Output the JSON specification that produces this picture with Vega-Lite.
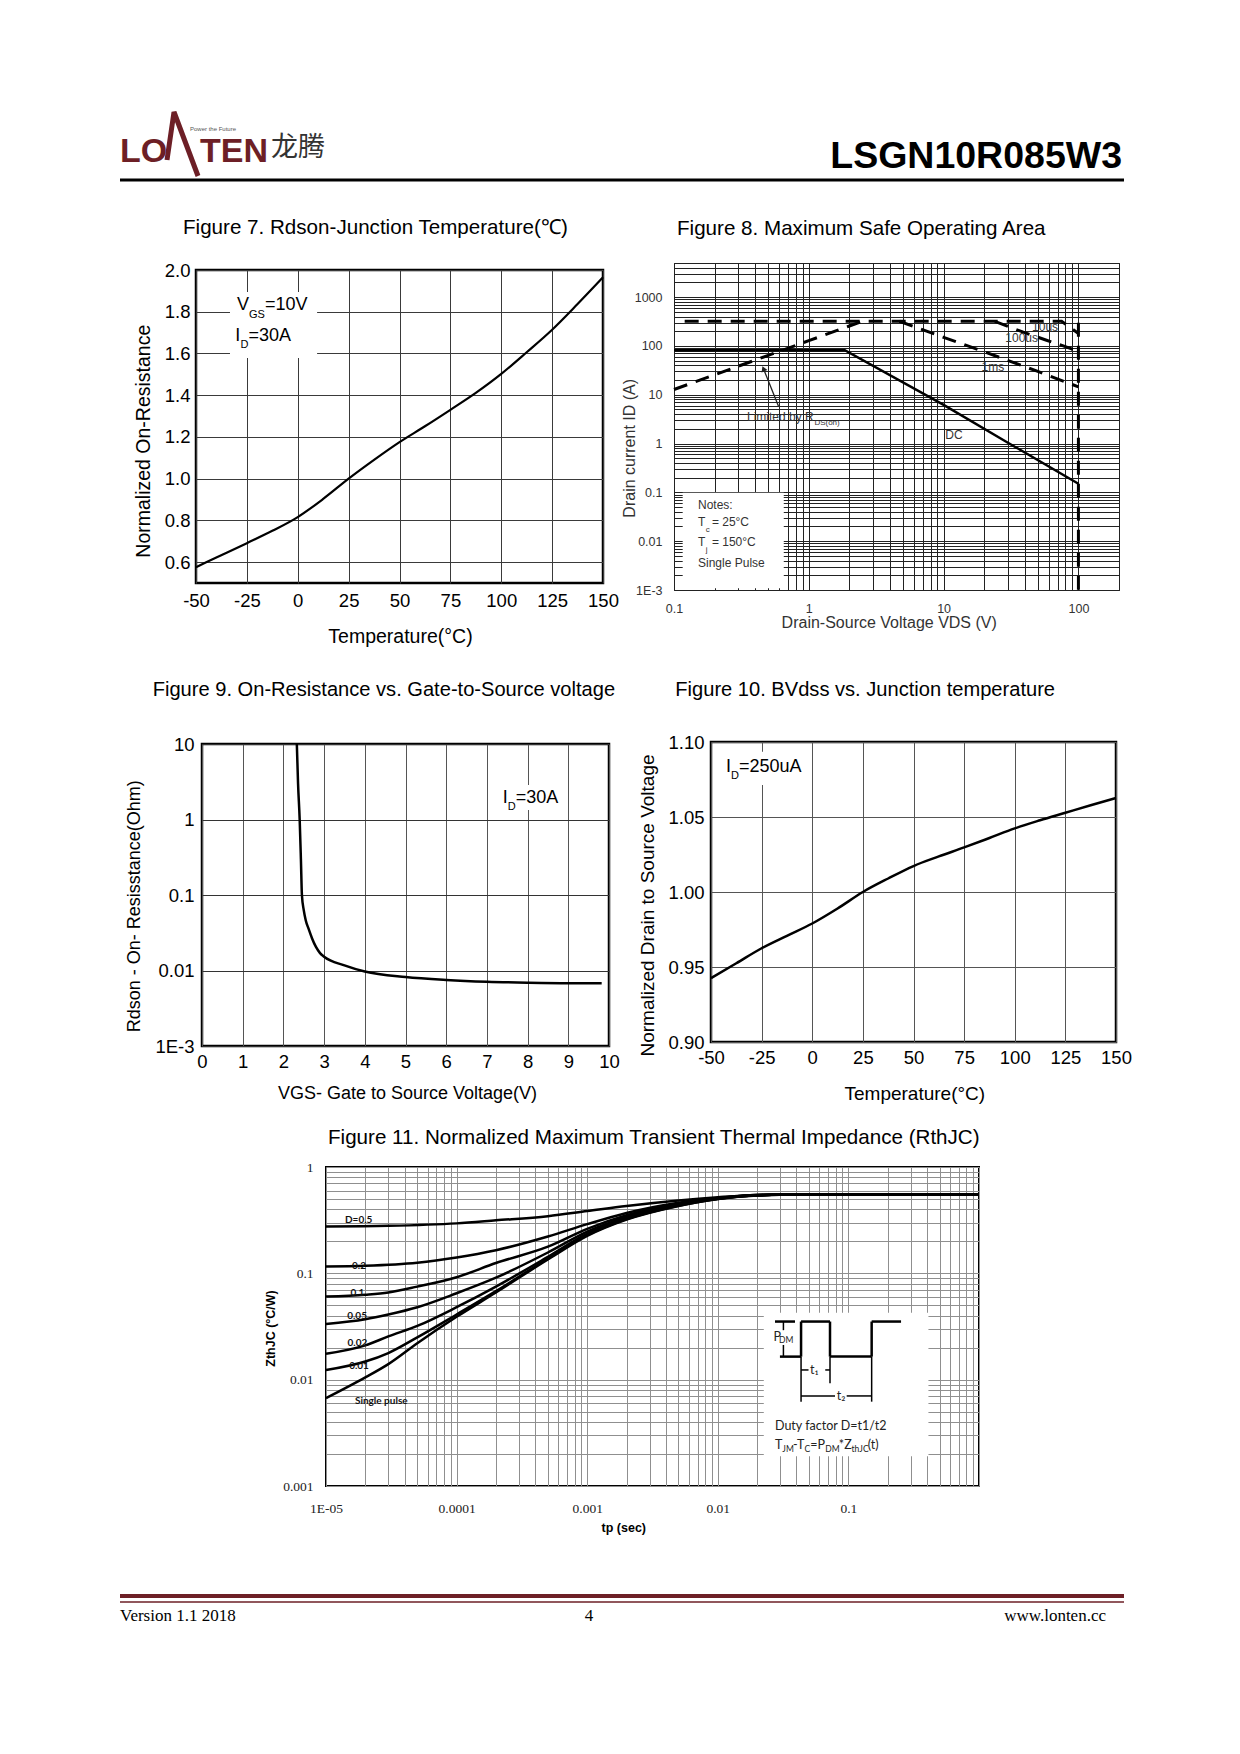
{
  "$schema": "https://vega.github.io/schema/vega-lite/v6.json",
  "background": "white",
  "padding": {"left": 118, "top": 100, "right": 5, "bottom": 5},
  "config": {
    "view": {"stroke": null},
    "font": "Liberation Sans",
    "axis": {"domain": false, "ticks": false, "tickSize": 0, "labelFont": "Liberation Sans", "titleFont": "Liberation Sans", "labelColor": "black", "titleColor": "black", "titleFontWeight": "normal", "labelOverlap": false, "labelFlush": false, "labelBound": false, "gridOpacity": 1, "gridWidth": 1, "titleAlign": "center", "titleBaseline": "middle"},
    "title": {"font": "Liberation Sans", "fontWeight": "normal", "anchor": "start", "frame": "group", "baseline": "alphabetic", "color": "black", "fontSize": 20.6},
    "text": {"font": "Liberation Sans", "color": "black"}
  },
  "datasets": {
    "fig7": [{"t":-50,"r":0.576},{"t":-40,"r":0.622},{"t":-25,"r":0.691},{"t":-12.5,"r":0.75},{"t":0,"r":0.816},{"t":12.5,"r":0.903},{"t":25,"r":1.0},{"t":37.5,"r":1.09},{"t":50,"r":1.175},{"t":62.5,"r":1.251},{"t":75,"r":1.33},{"t":87.5,"r":1.411},{"t":100,"r":1.502},{"t":112.5,"r":1.606},{"t":125,"r":1.714},{"t":137.5,"r":1.837},{"t":150,"r":1.965}],
    "fig8": [
      {"s":"dc","v":0.1,"i":82},{"s":"dc","v":1.85,"i":82},{"s":"dc","v":10,"i":6.2},{"s":"dc","v":30,"i":1.04},{"s":"dc","v":100,"i":0.15},
      {"s":"rds","v":0.1,"i":12.8},{"s":"rds","v":0.2,"i":25.6},{"s":"rds","v":0.5,"i":64},{"s":"rds","v":1,"i":128},{"s":"rds","v":2,"i":256},{"s":"rds","v":2.5,"i":320},
      {"s":"us10","v":0.12,"i":320},{"s":"us10","v":75,"i":320},{"s":"us10","v":100,"i":180},
      {"s":"us100","v":24,"i":320},{"s":"us100","v":32,"i":235},{"s":"us100","v":39,"i":191},{"s":"us100","v":58,"i":131},{"s":"us100","v":72,"i":107},{"s":"us100","v":89,"i":87},{"s":"us100","v":100,"i":72},
      {"s":"ms1","v":4.7,"i":320},{"s":"ms1","v":10,"i":150},{"s":"ms1","v":20,"i":76},{"s":"ms1","v":50,"i":30},{"s":"ms1","v":100,"i":14.5},
      {"s":"vert","v":100,"i":300},{"s":"vert","v":100,"i":0.001}
    ],
    "fig9": [{"v":2.33,"r":10},{"v":2.36,"r":3},{"v":2.4,"r":1},{"v":2.43,"r":0.3},{"v":2.455,"r":0.1},{"v":2.5,"r":0.063},{"v":2.55,"r":0.046},{"v":2.62,"r":0.0355},{"v":2.7,"r":0.027},{"v":2.8,"r":0.0205},{"v":2.9,"r":0.017},{"v":3.0,"r":0.0152},{"v":3.5,"r":0.0117},{"v":4,"r":0.0097},{"v":5,"r":0.0082},{"v":6,"r":0.0075},{"v":7,"r":0.0071},{"v":8,"r":0.0069},{"v":9,"r":0.0068},{"v":9.82,"r":0.0068}],
    "fig10": [{"t":-50,"b":0.9426},{"t":-37.5,"b":0.9525},{"t":-25,"b":0.9625},{"t":-12.5,"b":0.9708},{"t":0,"b":0.979},{"t":12.5,"b":0.989},{"t":25,"b":1.0},{"t":37.5,"b":1.009},{"t":50,"b":1.0173},{"t":62.5,"b":1.0237},{"t":75,"b":1.0297},{"t":87.5,"b":1.036},{"t":100,"b":1.0424},{"t":112.5,"b":1.0478},{"t":125,"b":1.0528},{"t":137.5,"b":1.0578},{"t":150,"b":1.0627}],
    "fig11": [
      {"d":"single","t":0.00001,"z":0.0067},{"d":"single","t":0.00002,"z":0.0105},{"d":"single","t":0.00003,"z":0.014},{"d":"single","t":0.00005,"z":0.022},{"d":"single","t":0.0001,"z":0.039},{"d":"single","t":0.0002,"z":0.066},{"d":"single","t":0.0005,"z":0.135},{"d":"single","t":0.001,"z":0.225},{"d":"single","t":0.002,"z":0.32},{"d":"single","t":0.005,"z":0.43},{"d":"single","t":0.01,"z":0.5},{"d":"single","t":0.02,"z":0.54},{"d":"single","t":0.05,"z":0.553},{"d":"single","t":0.1,"z":0.555},{"d":"single","t":1,"z":0.555},
      {"d":"0.01","t":0.00001,"z":0.0123},{"d":"0.01","t":0.00002,"z":0.0148},{"d":"0.01","t":0.00003,"z":0.0178},{"d":"0.01","t":0.00005,"z":0.025},{"d":"0.01","t":0.0001,"z":0.041},{"d":"0.01","t":0.0002,"z":0.068},{"d":"0.01","t":0.0005,"z":0.138},{"d":"0.01","t":0.001,"z":0.229},{"d":"0.01","t":0.002,"z":0.324},{"d":"0.01","t":0.005,"z":0.433},{"d":"0.01","t":0.01,"z":0.501},{"d":"0.01","t":0.02,"z":0.541},{"d":"0.01","t":0.05,"z":0.553},{"d":"0.01","t":0.1,"z":0.555},{"d":"0.01","t":1,"z":0.555},
      {"d":"0.02","t":0.00001,"z":0.0175},{"d":"0.02","t":0.00002,"z":0.021},{"d":"0.02","t":0.00003,"z":0.0255},{"d":"0.02","t":0.00005,"z":0.032},{"d":"0.02","t":0.0001,"z":0.048},{"d":"0.02","t":0.0002,"z":0.075},{"d":"0.02","t":0.0005,"z":0.143},{"d":"0.02","t":0.001,"z":0.236},{"d":"0.02","t":0.002,"z":0.33},{"d":"0.02","t":0.005,"z":0.44},{"d":"0.02","t":0.01,"z":0.503},{"d":"0.02","t":0.02,"z":0.542},{"d":"0.02","t":0.05,"z":0.553},{"d":"0.02","t":0.1,"z":0.555},{"d":"0.02","t":1,"z":0.555},
      {"d":"0.05","t":0.00001,"z":0.0334},{"d":"0.05","t":0.00002,"z":0.037},{"d":"0.05","t":0.00003,"z":0.041},{"d":"0.05","t":0.00005,"z":0.048},{"d":"0.05","t":0.0001,"z":0.065},{"d":"0.05","t":0.0002,"z":0.091},{"d":"0.05","t":0.0005,"z":0.157},{"d":"0.05","t":0.001,"z":0.247},{"d":"0.05","t":0.002,"z":0.34},{"d":"0.05","t":0.005,"z":0.445},{"d":"0.05","t":0.01,"z":0.505},{"d":"0.05","t":0.02,"z":0.543},{"d":"0.05","t":0.05,"z":0.553},{"d":"0.05","t":0.1,"z":0.555},{"d":"0.05","t":1,"z":0.555},
      {"d":"0.1","t":0.00001,"z":0.0605},{"d":"0.1","t":0.00002,"z":0.063},{"d":"0.1","t":0.00003,"z":0.066},{"d":"0.1","t":0.00005,"z":0.075},{"d":"0.1","t":0.0001,"z":0.092},{"d":"0.1","t":0.0002,"z":0.125},{"d":"0.1","t":0.0005,"z":0.178},{"d":"0.1","t":0.001,"z":0.262},{"d":"0.1","t":0.002,"z":0.352},{"d":"0.1","t":0.005,"z":0.452},{"d":"0.1","t":0.01,"z":0.508},{"d":"0.1","t":0.02,"z":0.544},{"d":"0.1","t":0.05,"z":0.553},{"d":"0.1","t":0.1,"z":0.555},{"d":"0.1","t":1,"z":0.555},
      {"d":"0.2","t":0.00001,"z":0.116},{"d":"0.2","t":0.00002,"z":0.118},{"d":"0.2","t":0.00005,"z":0.126},{"d":"0.2","t":0.0001,"z":0.141},{"d":"0.2","t":0.0002,"z":0.165},{"d":"0.2","t":0.0005,"z":0.222},{"d":"0.2","t":0.001,"z":0.29},{"d":"0.2","t":0.002,"z":0.37},{"d":"0.2","t":0.005,"z":0.462},{"d":"0.2","t":0.01,"z":0.512},{"d":"0.2","t":0.02,"z":0.545},{"d":"0.2","t":0.05,"z":0.553},{"d":"0.2","t":0.1,"z":0.555},{"d":"0.2","t":1,"z":0.555},
      {"d":"0.5","t":0.00001,"z":0.276},{"d":"0.5","t":0.00003,"z":0.28},{"d":"0.5","t":0.0001,"z":0.295},{"d":"0.5","t":0.0002,"z":0.315},{"d":"0.5","t":0.0005,"z":0.345},{"d":"0.5","t":0.001,"z":0.385},{"d":"0.5","t":0.002,"z":0.43},{"d":"0.5","t":0.005,"z":0.485},{"d":"0.5","t":0.01,"z":0.52},{"d":"0.5","t":0.02,"z":0.546},{"d":"0.5","t":0.05,"z":0.553},{"d":"0.5","t":0.1,"z":0.555},{"d":"0.5","t":1,"z":0.555}
    ]
  },
  "columns": 1,
  "spacing": 0,
  "bounds": "flush",
  "align": "each",
  "concat": [
    {
      "width": 1004, "height": 163,
      "layer": [
        {"data": {"values": [{"s":"LO","x":0,"y":62},{"s":"TEN","x":80,"y":62}]},
         "mark": {"type":"text","align":"left","baseline":"alphabetic","fontSize":34,"fontWeight":"bold","color":"#6d1f26"},
         "encoding": {"x":{"field":"x","type":"quantitative","scale":{"domain":[0,1004],"nice":false,"zero":false},"axis":null},"y":{"field":"y","type":"quantitative","scale":{"domain":[0,163],"reverse":true,"nice":false,"zero":false},"axis":null},"text":{"field":"s"}}},
        {"data": {"values": [{"x":47,"y":60},{"x":54,"y":12},{"x":78,"y":76}]},
         "mark": {"type":"line","color":"#6d1f26","strokeWidth":5,"strokeJoin":"miter"},
         "encoding": {"x":{"field":"x","type":"quantitative","scale":{"domain":[0,1004],"nice":false,"zero":false},"axis":null},"y":{"field":"y","type":"quantitative","scale":{"domain":[0,163],"reverse":true,"nice":false,"zero":false},"axis":null}}},
        {"data": {"values": [{"s":"Power the Future","x":70,"y":29}]},
         "mark": {"type":"text","align":"left","baseline":"middle","fontSize":6,"color":"#555"},
         "encoding": {"x":{"field":"x","type":"quantitative","scale":{"domain":[0,1004],"nice":false,"zero":false},"axis":null},"y":{"field":"y","type":"quantitative","scale":{"domain":[0,163],"reverse":true,"nice":false,"zero":false},"axis":null},"text":{"field":"s"}}},
        {"data": {"values": [{"s":"龙腾","x":151,"y":48}]},
         "mark": {"type":"text","align":"left","baseline":"middle","fontSize":27,"font":"Noto Sans CJK SC","color":"#333"},
         "encoding": {"x":{"field":"x","type":"quantitative","scale":{"domain":[0,1004],"nice":false,"zero":false},"axis":null},"y":{"field":"y","type":"quantitative","scale":{"domain":[0,163],"reverse":true,"nice":false,"zero":false},"axis":null},"text":{"field":"s"}}},
        {"data": {"values": [{"s":"LSGN10R085W3","x":1002,"y":68}]},
         "mark": {"type":"text","align":"right","baseline":"alphabetic","fontSize":37.5,"fontWeight":"bold","color":"black"},
         "encoding": {"x":{"field":"x","type":"quantitative","scale":{"domain":[0,1004],"nice":false,"zero":false},"axis":null},"y":{"field":"y","type":"quantitative","scale":{"domain":[0,163],"reverse":true,"nice":false,"zero":false},"axis":null},"text":{"field":"s"}}},
        {"data": {"values": [{"x":0,"x2":1004,"y":80}]},
         "mark": {"type":"rule","color":"black","strokeWidth":3},
         "encoding": {"x":{"field":"x","type":"quantitative","scale":{"domain":[0,1004],"nice":false,"zero":false},"axis":null},"x2":{"field":"x2"},"y":{"field":"y","type":"quantitative","scale":{"domain":[0,163],"reverse":true,"nice":false,"zero":false},"axis":null}}}
      ]
    },
    {
      "columns": 4, "spacing": 0, "bounds": "flush", "align": "each",
      "concat": [
        {"width": 76, "height": 1, "data": {"values": []}, "mark": "point", "encoding": {}},
        {
          "columns": 1, "spacing": 0, "bounds": "flush", "align": "each",
          "concat": [
            {"width": 1, "height": 7, "data": {"values": []}, "mark": "point", "encoding": {}},
            {
              "width": 407, "height": 313,
              "view": {"stroke": "black", "strokeWidth": 2.5},
              "title": {"text": "Figure 7. Rdson-Junction Temperature(℃)", "offset": 22, "dx": -13},
              "layer": [
                {"data": {"values": [{"x1":-33.3,"x2":9.5,"y1":1.578,"y2":1.895}]},
                 "mark": {"type":"rect","fill":"white"},
                 "encoding": {
                   "x": {"field":"x1","type":"quantitative","scale":{"domain":[-50,150],"nice":false,"zero":false},
                         "axis":{"title":"Temperature(°C)","values":[-50,-25,0,25,50,75,100,125,150],"labelExpr":"replace(datum.label, '\u2212', '-')","grid":true,"gridColor":"#3a3a3a","labelFontSize":18.5,"labelPadding":17,"labelBaseline":"middle","titleFontSize":19.5,"titleX":204,"titleY":53.7}},
                   "x2": {"field":"x2"},
                   "y": {"field":"y1","type":"quantitative","scale":{"domain":[0.5,2.0],"nice":false,"zero":false},
                         "axis":{"title":"Normalized On-Resistance","values":[0.6,0.8,1.0,1.2,1.4,1.6,1.8,2.0],"format":".1f","grid":true,"gridColor":"#3a3a3a","labelFontSize":18.5,"labelPadding":6,"titleFontSize":19.5,"titleX":-52.5,"titleY":170.7}},
                   "y2": {"field":"y2"}}},
                {"data": {"name":"fig7"},
                 "mark": {"type":"line","color":"black","strokeWidth":2.2,"interpolate":"monotone"},
                 "encoding": {"x":{"field":"t","type":"quantitative","scale":{"domain":[-50,150],"nice":false,"zero":false}},"y":{"field":"r","type":"quantitative","scale":{"domain":[0.5,2.0],"nice":false,"zero":false}}}},
                {"data": {"values": [{"s":"V","x":-29.85,"y":1.832},{"s":"=10V","x":-16.1,"y":1.832},{"s":"I","x":-30.7,"y":1.684},{"s":"=30A","x":-24.25,"y":1.684}]},
                 "mark": {"type":"text","align":"left","baseline":"middle","fontSize":18},
                 "encoding": {"x":{"field":"x","type":"quantitative","scale":{"domain":[-50,150],"nice":false,"zero":false}},"y":{"field":"y","type":"quantitative","scale":{"domain":[0.5,2.0],"nice":false,"zero":false}},"text":{"field":"s"}}},
                {"data": {"values": [{"s":"GS","x":-23.96,"y":1.784},{"s":"D","x":-28.13,"y":1.641}]},
                 "mark": {"type":"text","align":"left","baseline":"middle","fontSize":11},
                 "encoding": {"x":{"field":"x","type":"quantitative","scale":{"domain":[-50,150],"nice":false,"zero":false}},"y":{"field":"y","type":"quantitative","scale":{"domain":[0.5,2.0],"nice":false,"zero":false}},"text":{"field":"s"}}}
              ]
            }
          ]
        },
        {"width": 478, "height": 1, "data": {"values": []}, "mark": "point", "encoding": {}},
        {
          "width": 445, "height": 327,
          "view": {"stroke": "black", "strokeWidth": 1},
          "title": {"text": "Figure 8. Maximum Safe Operating Area", "offset": 23, "dx": 3},
          "resolve": {"axis": {"x": "independent", "y": "independent"}},
          "layer": [
            {"data": {"values": [{"x1":0.116,"x2":0.652,"y1":0.00108,"y2":0.098}]},
             "mark": {"type":"rect","fill":"white"},
             "encoding": {
               "x": {"field":"x1","type":"quantitative","scale":{"type":"log","domain":[0.1,200],"nice":false},
                     "axis":{"orient":"bottom","values":[0.1,0.2,0.3,0.4,0.5,0.6,0.7,0.8,0.9,1,2,3,4,5,6,7,8,9,10,20,30,40,50,60,70,80,90,100,200],"grid":true,"gridColor":"#222","labels":false,"title":null}},
               "x2": {"field":"x2"},
               "y": {"field":"y1","type":"quantitative","scale":{"type":"log","domain":[0.001,5000],"nice":false},
                     "axis":{"orient":"left","values":[0.001,0.002,0.003,0.004,0.005,0.006,0.007,0.008,0.009,0.01,0.02,0.03,0.04,0.05,0.06,0.07,0.08,0.09,0.1,0.2,0.3,0.4,0.5,0.6,0.7,0.8,0.9,1,2,3,4,5,6,7,8,9,10,20,30,40,50,60,70,80,90,100,200,300,400,500,600,700,800,900,1000,2000,3000,4000,5000],"grid":true,"gridColor":"#222","labels":false,"title":null}},
               "y2": {"field":"y2"}}},
            {"data": {"name":"fig8"}, "transform": [{"filter":"datum.s === 'dc'"}],
             "mark": {"type":"line","color":"black","strokeWidth":2.5},
             "encoding": {
               "x": {"field":"v","type":"quantitative","scale":{"type":"log","domain":[0.1,200],"nice":false},
                     "axis":{"orient":"bottom","values":[0.1,1,10,100],"grid":false,"format":"~g","labelFontSize":12.5,"labelColor":"#333","labelPadding":18,"labelBaseline":"middle","title":"Drain-Source Voltage VDS (V)","titleFontSize":16,"titleColor":"#333","titleX":214.7,"titleY":32.7}},
               "y": {"field":"i","type":"quantitative","scale":{"type":"log","domain":[0.001,5000],"nice":false},
                     "axis":{"orient":"left","values":[0.001,0.01,0.1,1,10,100,1000],"grid":false,"format":"~g","labelExpr":"datum.value < 0.005 ? '1E-3' : datum.label","labelFontSize":12.5,"labelColor":"#333","labelPadding":12,"title":"Drain current ID (A)","titleFontSize":16,"titleColor":"#333","titleX":-45,"titleY":184.8}}}},
            {"data": {"name":"fig8"}, "transform": [{"filter":"datum.s !== 'dc'"}],
             "mark": {"type":"line","color":"black","strokeWidth":3,"strokeDash":[14,9]},
             "encoding": {
               "x": {"field":"v","type":"quantitative","scale":{"type":"log","domain":[0.1,200],"nice":false},"axis":null},
               "y": {"field":"i","type":"quantitative","scale":{"type":"log","domain":[0.001,5000],"nice":false},"axis":null},
               "detail": {"field":"s"}}},
            {"data": {"values": [{"x1":0.598,"y1":5.68,"x2":0.461,"y2":34.1}]},
             "mark": {"type":"rule","color":"#222","strokeWidth":1.3},
             "encoding": {
               "x": {"field":"x1","type":"quantitative","scale":{"type":"log","domain":[0.1,200],"nice":false},"axis":null},
               "y": {"field":"y1","type":"quantitative","scale":{"type":"log","domain":[0.001,5000],"nice":false},"axis":null},
               "x2": {"field":"x2"}, "y2": {"field":"y2"}}},
            {"data": {"values": [{"x":0.461,"y":34.1}]},
             "mark": {"type":"point","shape":"triangle-up","filled":true,"color":"#222","size":40,"angle":-22,"opacity":1},
             "encoding": {
               "x": {"field":"x","type":"quantitative","scale":{"type":"log","domain":[0.1,200],"nice":false},"axis":null},
               "y": {"field":"y","type":"quantitative","scale":{"type":"log","domain":[0.001,5000],"nice":false},"axis":null}}},
            {"data": {"values": [{"s":"Notes:","x":0.1507,"y":0.055},{"s":"T","x":0.1507,"y":0.025},{"s":"= 25°C","x":0.191,"y":0.025},{"s":"T","x":0.1507,"y":0.00973},{"s":"= 150°C","x":0.191,"y":0.00973},{"s":"Single Pulse","x":0.1507,"y":0.00361},{"s":"Limited by R","x":0.348,"y":3.54},{"s":"10us","x":45.3,"y":240},{"s":"100us","x":28.7,"y":143},{"s":"1ms","x":19.1,"y":37.5},{"s":"DC","x":10.3,"y":1.49}]},
             "mark": {"type":"text","align":"left","baseline":"middle","fontSize":12,"color":"#333"},
             "encoding": {
               "x": {"field":"x","type":"quantitative","scale":{"type":"log","domain":[0.1,200],"nice":false},"axis":null},
               "y": {"field":"y","type":"quantitative","scale":{"type":"log","domain":[0.001,5000],"nice":false},"axis":null},
               "text": {"field":"s"}}},
            {"data": {"values": [{"s":"c","x":0.172,"y":0.0169},{"s":"j","x":0.172,"y":0.00658},{"s":"DS(on)","x":1.1,"y":2.67}]},
             "mark": {"type":"text","align":"left","baseline":"middle","fontSize":8,"color":"#333"},
             "encoding": {
               "x": {"field":"x","type":"quantitative","scale":{"type":"log","domain":[0.1,200],"nice":false},"axis":null},
               "y": {"field":"y","type":"quantitative","scale":{"type":"log","domain":[0.001,5000],"nice":false},"axis":null},
               "text": {"field":"s"}}}
          ]
        }
      ]
    },
    {"width": 1, "height": 479, "data": {"values": []}, "mark": "point", "encoding": {}},
    {
      "columns": 4, "spacing": 0, "bounds": "flush", "align": "each",
      "concat": [
        {"width": 82, "height": 1, "data": {"values": []}, "mark": "point", "encoding": {}},
        {
          "columns": 1, "spacing": 0, "bounds": "flush", "align": "each",
          "concat": [
            {"width": 1, "height": 2, "data": {"values": []}, "mark": "point", "encoding": {}},
            {
              "width": 407, "height": 302,
              "view": {"stroke": "black", "strokeWidth": 2.5},
              "title": {"text": "Figure 9. On-Resistance vs. Gate-to-Source voltage", "offset": 34.5, "dx": -49.3, "fontSize": 20.1},
              "layer": [
                {"data": {"values": [{"x1":7.3,"x2":8.9,"y1":1.34,"y2":2.86}]},
                 "mark": {"type":"rect","fill":"white"},
                 "encoding": {
                   "x": {"field":"x1","type":"quantitative","scale":{"domain":[0,10],"nice":false,"zero":false},
                         "axis":{"title":"VGS- Gate to Source Voltage(V)","values":[0,1,2,3,4,5,6,7,8,9,10],"grid":true,"gridColor":"#555","labelFontSize":18.5,"labelPadding":15,"labelBaseline":"middle","titleFontSize":18,"titleX":205,"titleY":47.3}},
                   "x2": {"field":"x2"},
                   "y": {"field":"y1","type":"quantitative","scale":{"type":"log","domain":[0.001,10],"nice":false},
                         "axis":{"title":"Rdson - On- Resisstance(Ohm)","values":[0.001,0.01,0.1,1,10],"format":"~g","labelExpr":"datum.value < 0.005 ? '1E-3' : datum.label","grid":true,"gridColor":"#333","labelFontSize":18.5,"labelPadding":8,"titleFontSize":18,"titleX":-68,"titleY":161.8}},
                   "y2": {"field":"y2"}}},
                {"data": {"name":"fig9"},
                 "mark": {"type":"line","color":"black","strokeWidth":2.5,"interpolate":"monotone"},
                 "encoding": {"x":{"field":"v","type":"quantitative","scale":{"domain":[0,10],"nice":false,"zero":false}},"y":{"field":"r","type":"quantitative","scale":{"type":"log","domain":[0.001,10],"nice":false}}}},
                {"data": {"values": [{"s":"I","x":7.39,"y":1.91},{"s":"=30A","x":7.71,"y":1.91}]},
                 "mark": {"type":"text","align":"left","baseline":"middle","fontSize":18},
                 "encoding": {"x":{"field":"x","type":"quantitative","scale":{"domain":[0,10],"nice":false,"zero":false}},"y":{"field":"y","type":"quantitative","scale":{"type":"log","domain":[0.001,10],"nice":false}},"text":{"field":"s"}}},
                {"data": {"values": [{"s":"D","x":7.51,"y":1.48}]},
                 "mark": {"type":"text","align":"left","baseline":"middle","fontSize":11},
                 "encoding": {"x":{"field":"x","type":"quantitative","scale":{"domain":[0,10],"nice":false,"zero":false}},"y":{"field":"y","type":"quantitative","scale":{"type":"log","domain":[0.001,10],"nice":false}},"text":{"field":"s"}}}
              ]
            }
          ]
        },
        {"width": 509, "height": 1, "data": {"values": []}, "mark": "point", "encoding": {}},
        {
          "width": 405, "height": 300,
          "view": {"stroke": "black", "strokeWidth": 2.5},
          "title": {"text": "Figure 10. BVdss vs. Junction temperature", "offset": 33, "dx": -35.7, "fontSize": 20.1},
          "layer": [
            {"data": {"values": [{"x1":-44.6,"x2":-2.6,"y1":1.0713,"y2":1.0935}]},
             "mark": {"type":"rect","fill":"white"},
             "encoding": {
               "x": {"field":"x1","type":"quantitative","scale":{"domain":[-50,150],"nice":false,"zero":false},
                     "axis":{"title":"Temperature(°C)","values":[-50,-25,0,25,50,75,100,125,150],"labelExpr":"replace(datum.label, '\u2212', '-')","grid":true,"gridColor":"#555","labelFontSize":18.5,"labelPadding":15,"labelBaseline":"middle","titleFontSize":19,"titleX":203.3,"titleY":51.3}},
               "x2": {"field":"x2"},
               "y": {"field":"y1","type":"quantitative","scale":{"domain":[0.9,1.1],"nice":false,"zero":false},
                     "axis":{"title":"Normalized Drain to Source Voltage","values":[0.9,0.95,1.0,1.05,1.1],"format":".2f","grid":true,"gridColor":"#555","labelFontSize":18.5,"labelPadding":7,"titleFontSize":19,"titleX":-63.5,"titleY":163}},
               "y2": {"field":"y2"}}},
            {"data": {"name":"fig10"},
             "mark": {"type":"line","color":"black","strokeWidth":2.5,"interpolate":"monotone"},
             "encoding": {"x":{"field":"t","type":"quantitative","scale":{"domain":[-50,150],"nice":false,"zero":false}},"y":{"field":"b","type":"quantitative","scale":{"domain":[0.9,1.1],"nice":false,"zero":false}}}},
            {"data": {"values": [{"s":"I","x":-42.59,"y":1.0835},{"s":"=250uA","x":-36.17,"y":1.0835}]},
             "mark": {"type":"text","align":"left","baseline":"middle","fontSize":18},
             "encoding": {"x":{"field":"x","type":"quantitative","scale":{"domain":[-50,150],"nice":false,"zero":false}},"y":{"field":"y","type":"quantitative","scale":{"domain":[0.9,1.1],"nice":false,"zero":false}},"text":{"field":"s"}}},
            {"data": {"values": [{"s":"D","x":-40.12,"y":1.0773}]},
             "mark": {"type":"text","align":"left","baseline":"middle","fontSize":11},
             "encoding": {"x":{"field":"x","type":"quantitative","scale":{"domain":[-50,150],"nice":false,"zero":false}},"y":{"field":"y","type":"quantitative","scale":{"domain":[0.9,1.1],"nice":false,"zero":false}},"text":{"field":"s"}}}
          ]
        }
      ]
    },
    {"width": 1, "height": 425, "data": {"values": []}, "mark": "point", "encoding": {}},
    {
      "columns": 2, "spacing": 0, "bounds": "flush", "align": "each",
      "concat": [
        {"width": 206, "height": 1, "data": {"values": []}, "mark": "point", "encoding": {}},
        {
          "width": 653, "height": 319,
          "view": {"stroke": "black", "strokeWidth": 2},
          "title": {"text": "Figure 11. Normalized Maximum Transient Thermal Impedance (RthJC)", "offset": 11.6, "dx": 2},
          "resolve": {"axis": {"x": "independent", "y": "independent"}},
          "layer": [
            {"data": {"values": [{"x1":0.0225,"x2":0.41,"y1":0.0019,"y2":0.0427}]},
             "mark": {"type":"rect","fill":"white"},
             "encoding": {
               "x": {"field":"x1","type":"quantitative","scale":{"type":"log","domain":[0.00001,1],"nice":false},
                     "axis":{"orient":"bottom","values":[0.00001,0.00002,0.00003,0.00004,0.00005,0.00006,0.00007,0.00008,0.00009,0.0001,0.0002,0.0003,0.0004,0.0005,0.0006,0.0007,0.0008,0.0009,0.001,0.002,0.003,0.004,0.005,0.006,0.007,0.008,0.009,0.01,0.02,0.03,0.04,0.05,0.06,0.07,0.08,0.09,0.1,0.2,0.3,0.4,0.5,0.6,0.7,0.8,0.9,1],"grid":true,"gridColor":"#8f8f8f","labels":false,"title":null}},
               "x2": {"field":"x2"},
               "y": {"field":"y1","type":"quantitative","scale":{"type":"log","domain":[0.001,1],"nice":false},
                     "axis":{"orient":"left","values":[0.001,0.002,0.003,0.004,0.005,0.006,0.007,0.008,0.009,0.01,0.02,0.03,0.04,0.05,0.06,0.07,0.08,0.09,0.1,0.2,0.3,0.4,0.5,0.6,0.7,0.8,0.9,1],"grid":true,"gridColor":"#8f8f8f","labels":false,"title":null}},
               "y2": {"field":"y2"}}},
            {"data": {"name":"fig11"},
             "mark": {"type":"line","color":"black","strokeWidth":2.5,"interpolate":"monotone"},
             "encoding": {
               "x": {"field":"t","type":"quantitative","scale":{"type":"log","domain":[0.00001,1],"nice":false},
                     "axis":{"orient":"bottom","values":[0.00001,0.0001,0.001,0.01,0.1],"grid":false,"format":"~g","labelExpr":"datum.value < 0.00005 ? '1E-05' : datum.label","labelFont":"Liberation Serif","labelFontSize":13.5,"labelColor":"#222","labelPadding":22,"labelBaseline":"middle","title":"tp (sec)","titleFontSize":12.5,"titleFontWeight":"bold","titleX":297.3,"titleY":41.3}},
               "y": {"field":"z","type":"quantitative","scale":{"type":"log","domain":[0.001,1],"nice":false},
                     "axis":{"orient":"left","values":[0.001,0.01,0.1,1],"grid":false,"format":"~g","labelFont":"Liberation Serif","labelFontSize":13.5,"labelColor":"#222","labelPadding":13,"title":"ZthJC (°C/W)","titleFontSize":12.5,"titleFontWeight":"bold","titleX":-56,"titleY":161}},
               "detail": {"field":"d"}}},
            {"data": {"values": [{"x1":0.0299,"x2":0.0434,"y1":0.01647,"y2":0.01647},{"x1":0.0434,"x2":0.0434,"y1":0.01647,"y2":0.0352},{"x1":0.0434,"x2":0.0723,"y1":0.0352,"y2":0.0352},{"x1":0.0723,"x2":0.0723,"y1":0.0352,"y2":0.01647},{"x1":0.0723,"x2":0.1507,"y1":0.01647,"y2":0.01647},{"x1":0.1507,"x2":0.1507,"y1":0.01647,"y2":0.0352},{"x1":0.1507,"x2":0.253,"y1":0.0352,"y2":0.0352},{"x1":0.0274,"x2":0.039,"y1":0.0352,"y2":0.0352}]},
             "mark": {"type":"rule","color":"black","strokeWidth":2.5},
             "encoding": {
               "x": {"field":"x1","type":"quantitative","scale":{"type":"log","domain":[0.00001,1],"nice":false},"axis":null},
               "y": {"field":"y1","type":"quantitative","scale":{"type":"log","domain":[0.001,1],"nice":false},"axis":null},
               "x2": {"field":"x2"}, "y2": {"field":"y2"}}},
            {"data": {"values": [{"x1":0.0318,"x2":0.0318,"y1":0.0352,"y2":0.0292},{"x1":0.0318,"x2":0.0318,"y1":0.0212,"y2":0.01647},{"x1":0.0434,"x2":0.0434,"y1":0.01647,"y2":0.00621},{"x1":0.0723,"x2":0.0723,"y1":0.01647,"y2":0.00925},{"x1":0.1507,"x2":0.1507,"y1":0.01647,"y2":0.00621},{"x1":0.0434,"x2":0.0495,"y1":0.01234,"y2":0.01234},{"x1":0.0665,"x2":0.0723,"y1":0.01234,"y2":0.01234},{"x1":0.0434,"x2":0.079,"y1":0.00703,"y2":0.00703},{"x1":0.097,"x2":0.1507,"y1":0.00703,"y2":0.00703}]},
             "mark": {"type":"rule","color":"black","strokeWidth":1.5},
             "encoding": {
               "x": {"field":"x1","type":"quantitative","scale":{"type":"log","domain":[0.00001,1],"nice":false},"axis":null},
               "y": {"field":"y1","type":"quantitative","scale":{"type":"log","domain":[0.001,1],"nice":false},"axis":null},
               "x2": {"field":"x2"}, "y2": {"field":"y2"}}},
            {"data": {"values": [{"s":"D=0.5","x":0.0000178,"y":0.314},{"s":"0.2","x":0.0000179,"y":0.117},{"s":"0.1","x":0.0000174,"y":0.065},{"s":"0.05","x":0.0000173,"y":0.04},{"s":"0.02","x":0.0000174,"y":0.0223},{"s":"0.01","x":0.0000179,"y":0.0133},{"s":"Single pulse","x":0.0000265,"y":0.0063}]},
             "mark": {"type":"text","align":"center","baseline":"middle","fontSize":10,"font":"Lato","fontWeight":"bold","color":"#111"},
             "encoding": {
               "x": {"field":"x","type":"quantitative","scale":{"type":"log","domain":[0.00001,1],"nice":false},"axis":null},
               "y": {"field":"y","type":"quantitative","scale":{"type":"log","domain":[0.001,1],"nice":false},"axis":null},
               "text": {"field":"s"}}},
            {"data": {"values": [{"s":"Duty factor D=t1/t2","x":0.0274,"y":0.00366},{"s":"T","x":0.0274,"y":0.00243},{"s":"-T","x":0.0377,"y":0.00243},{"s":"=P","x":0.0511,"y":0.00243},{"s":"*Z","x":0.0845,"y":0.00243},{"s":"(t)","x":0.1406,"y":0.00243},{"s":"P","x":0.0267,"y":0.0254},{"s":"t₁","x":0.0508,"y":0.01234},{"s":"t₂","x":0.0813,"y":0.00703}]},
             "mark": {"type":"text","align":"left","baseline":"middle","fontSize":12.5,"font":"Lato","color":"#222"},
             "encoding": {
               "x": {"field":"x","type":"quantitative","scale":{"type":"log","domain":[0.00001,1],"nice":false},"axis":null},
               "y": {"field":"y","type":"quantitative","scale":{"type":"log","domain":[0.001,1],"nice":false},"axis":null},
               "text": {"field":"s"}}},
            {"data": {"values": [{"s":"JM","x":0.0312,"y":0.00222},{"s":"C","x":0.0462,"y":0.00222},{"s":"DM","x":0.0664,"y":0.00222},{"s":"thJC","x":0.1057,"y":0.00222},{"s":"DM","x":0.0294,"y":0.0234}]},
             "mark": {"type":"text","align":"left","baseline":"middle","fontSize":8.5,"font":"Lato","color":"#222"},
             "encoding": {
               "x": {"field":"x","type":"quantitative","scale":{"type":"log","domain":[0.00001,1],"nice":false},"axis":null},
               "y": {"field":"y","type":"quantitative","scale":{"type":"log","domain":[0.001,1],"nice":false},"axis":null},
               "text": {"field":"s"}}}
          ]
        }
      ]
    },
    {"width": 1, "height": 319, "data": {"values": []}, "mark": "point", "encoding": {}},
    {
      "width": 1004, "height": 154,
      "layer": [
        {"data": {"values": [{"x":0,"x2":1004,"y":110}]},
         "mark": {"type":"rule","color":"#6d1f26","strokeWidth":4},
         "encoding": {"x":{"field":"x","type":"quantitative","scale":{"domain":[0,1004],"nice":false,"zero":false},"axis":null},"x2":{"field":"x2"},"y":{"field":"y","type":"quantitative","scale":{"domain":[0,154],"reverse":true,"nice":false,"zero":false},"axis":null}}},
        {"data": {"values": [{"x":0,"x2":1004,"y":116}]},
         "mark": {"type":"rule","color":"#6d1f26","strokeWidth":1.5},
         "encoding": {"x":{"field":"x","type":"quantitative","scale":{"domain":[0,1004],"nice":false,"zero":false},"axis":null},"x2":{"field":"x2"},"y":{"field":"y","type":"quantitative","scale":{"domain":[0,154],"reverse":true,"nice":false,"zero":false},"axis":null}}},
        {"data": {"values": [{"s":"Version 1.1 2018","x":0,"y":130}]},
         "mark": {"type":"text","align":"left","baseline":"middle","font":"Liberation Serif","fontSize":17},
         "encoding": {"x":{"field":"x","type":"quantitative","scale":{"domain":[0,1004],"nice":false,"zero":false},"axis":null},"y":{"field":"y","type":"quantitative","scale":{"domain":[0,154],"reverse":true,"nice":false,"zero":false},"axis":null},"text":{"field":"s"}}},
        {"data": {"values": [{"s":"4","x":469,"y":130}]},
         "mark": {"type":"text","align":"center","baseline":"middle","font":"Liberation Serif","fontSize":17},
         "encoding": {"x":{"field":"x","type":"quantitative","scale":{"domain":[0,1004],"nice":false,"zero":false},"axis":null},"y":{"field":"y","type":"quantitative","scale":{"domain":[0,154],"reverse":true,"nice":false,"zero":false},"axis":null},"text":{"field":"s"}}},
        {"data": {"values": [{"s":"www.lonten.cc","x":986,"y":130}]},
         "mark": {"type":"text","align":"right","baseline":"middle","font":"Liberation Serif","fontSize":17},
         "encoding": {"x":{"field":"x","type":"quantitative","scale":{"domain":[0,1004],"nice":false,"zero":false},"axis":null},"y":{"field":"y","type":"quantitative","scale":{"domain":[0,154],"reverse":true,"nice":false,"zero":false},"axis":null},"text":{"field":"s"}}}
      ]
    }
  ]
}
